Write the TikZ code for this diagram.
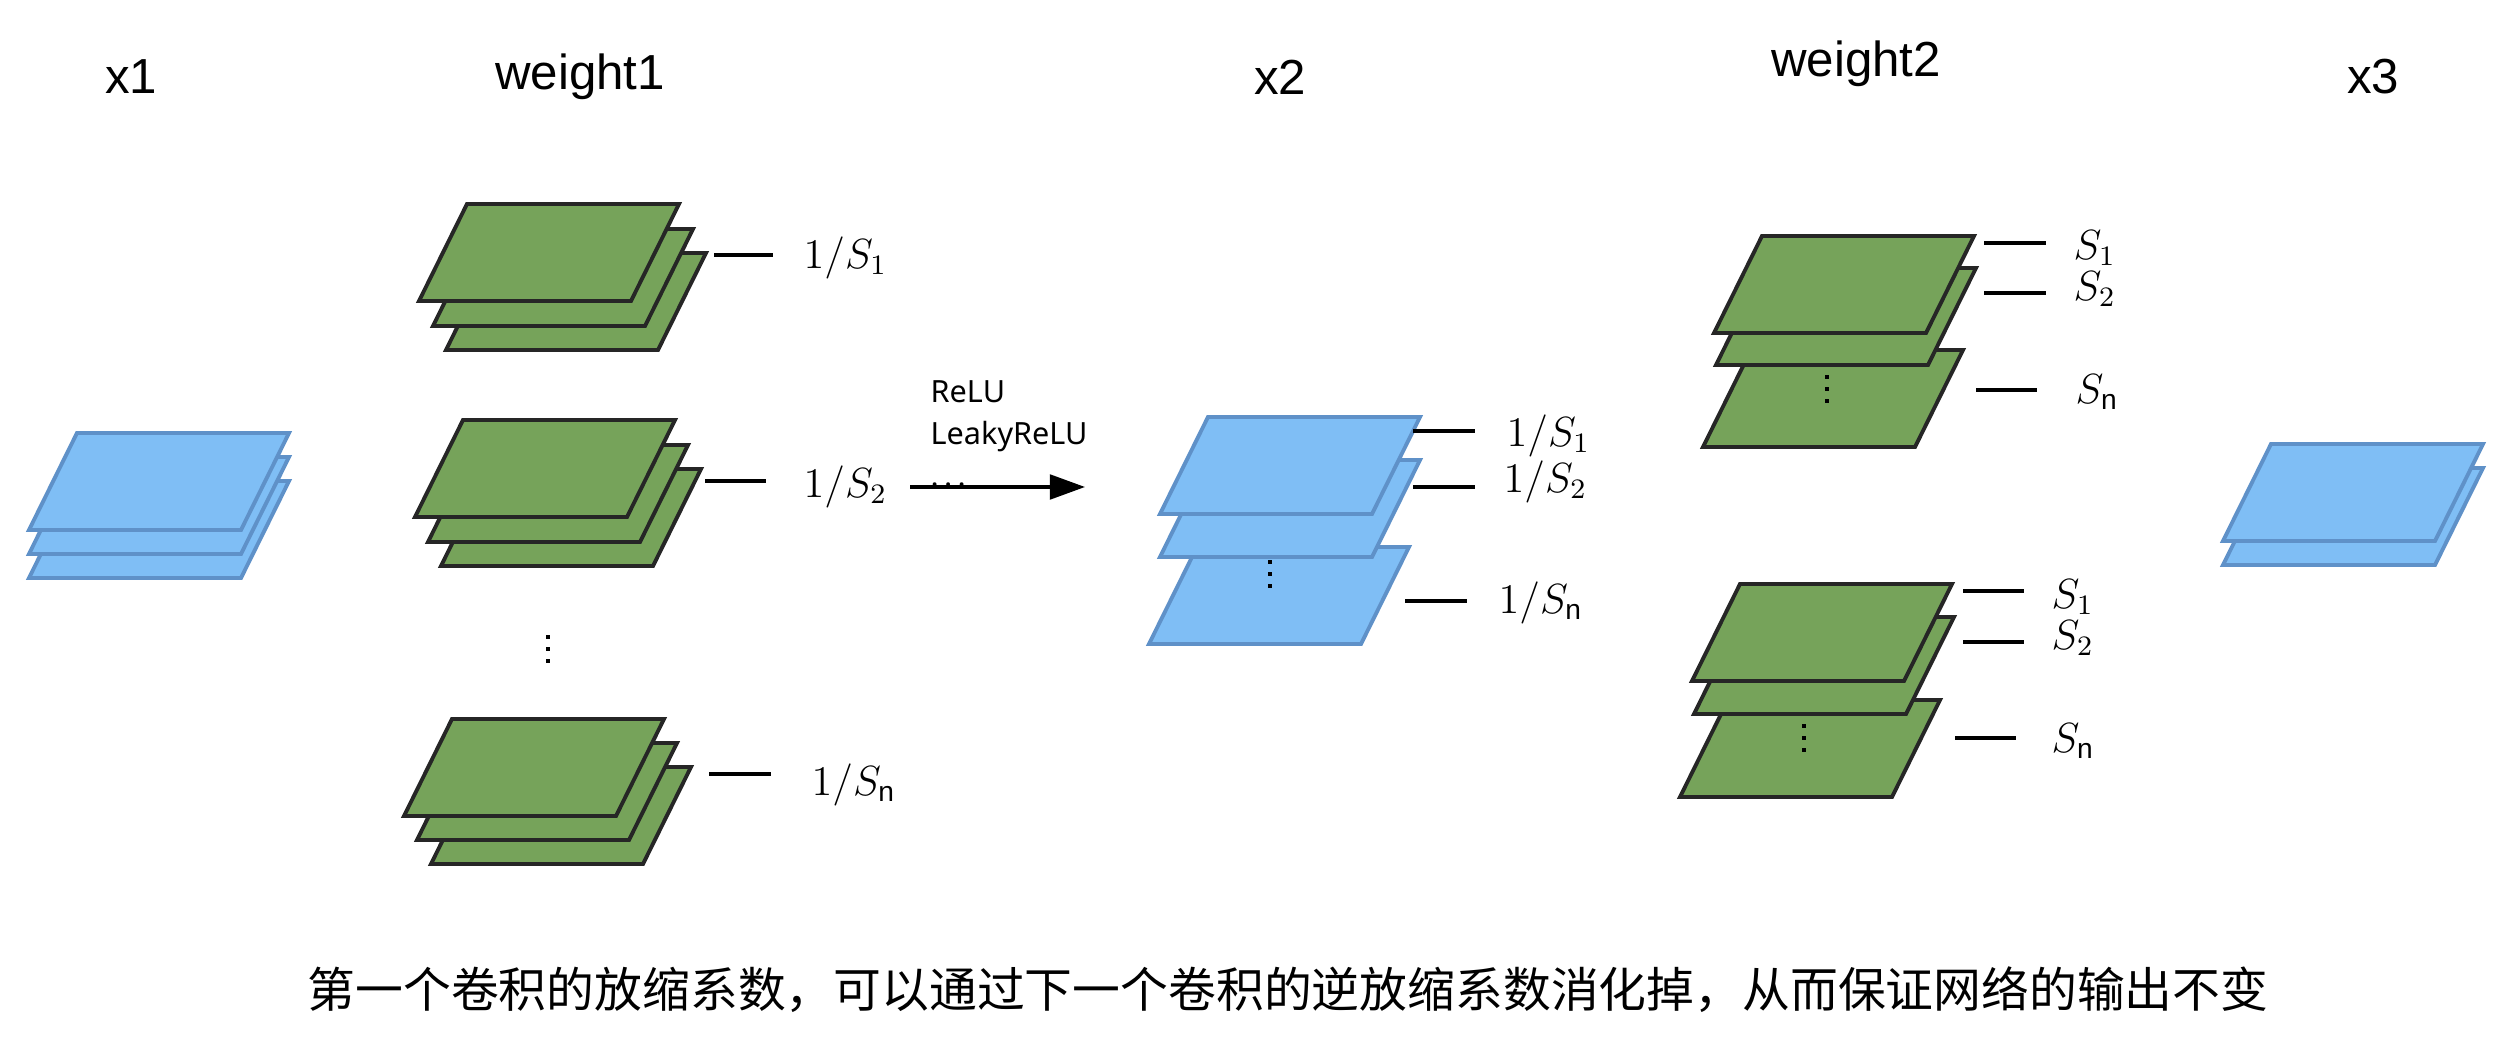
\documentclass[tikz,border=0pt]{standalone}
\usepackage{fontspec}
\usetikzlibrary{arrows.meta}
\setmainfont{Liberation Sans}
\newfontfamily\cjk{Noto Sans CJK SC}
\newfontfamily\notos{Noto Sans}
\definecolor{gfill}{RGB}{118,163,90}
\definecolor{gline}{RGB}{38,38,38}
\definecolor{bfill}{RGB}{127,190,245}
\definecolor{bline}{RGB}{95,145,200}
\tikzset{
  gsheet/.style={fill=gfill,draw=gline,line width=1.1pt,line join=miter},
  bsheet/.style={fill=bfill,draw=bline,line width=1.1pt,line join=miter},
  ttl/.style={font=\fontsize{14}{16}\selectfont,inner sep=0pt},
  lbl/.style={font=\fontsize{12}{14}\selectfont,anchor=west,inner sep=0pt},
  tick/.style={line width=1.1pt},
}
\newcommand{\mysheet}[3]{\draw[#3] (#1,#2) -- ++(212,0) -- ++(48,-97) -- ++(-212,0) -- cycle;}
\newcommand{\myvdots}[2]{\foreach \k in {0,12,24}{\fill (#1-2,#2+\k-2) rectangle ++(4,4);}}
\begin{document}
\begin{tikzpicture}[x=0.01cm,y=-0.01cm]
\useasboundingbox (0,0) rectangle (2496,1040);
% titles
\node[ttl] (t1) at (131,77) {x1};
\node[ttl] (t2) at (580,77) {weight1};
\node[ttl] (t3) at (1280,77) {x2};
\node[ttl] (t4) at (1856,64) {weight2};
\node[ttl] (t5) at (2373,77) {x3};
% x1
\mysheet{29}{578}{bsheet}
\mysheet{29}{554}{bsheet}
\mysheet{29}{530}{bsheet}
% weight1 group1
\mysheet{446}{350}{gsheet}
\mysheet{433}{326}{gsheet}
\mysheet{419}{301}{gsheet}
\coordinate (a1) at (714,255); \coordinate (b1) at (773,255);
\draw[tick] (a1) -- (b1);
\node[lbl] (l1) at (803,258) {$1/S_1$};
% group2
\mysheet{441}{566}{gsheet}
\mysheet{428}{542}{gsheet}
\mysheet{415}{517}{gsheet}
\coordinate (a2) at (705,481); \coordinate (b2) at (766,481);
\draw[tick] (a2) -- (b2);
\node[lbl] (l2) at (803,487) {$1/S_2$};
\myvdots{548}{637}
% group3
\mysheet{431}{864}{gsheet}
\mysheet{417}{840}{gsheet}
\mysheet{404}{816}{gsheet}
\coordinate (a3) at (709,774); \coordinate (b3) at (771,774);
\draw[tick] (a3) -- (b3);
\node[lbl] (l3) at (811,785) {$1/S_{\mathrm{n}}$};
% arrow
\node[font=\notos\fontsize{8.7}{12}\selectfont,anchor=north west,align=left,inner sep=0pt] (act) at (930,380) {ReLU\\LeakyReLU\\.\kern1.5pt.\kern1.5pt.};
\coordinate (ar1) at (910,487); \coordinate (ar2) at (1085,487);
\draw[line width=1pt,-{Triangle[length=10pt,width=7pt]}] (ar1) -- (ar2);
% x2
\mysheet{1149}{644}{bsheet}
\mysheet{1160}{557}{bsheet}
\mysheet{1160}{514}{bsheet}
\myvdots{1270}{562}
\coordinate (c1) at (1413,431); \coordinate (d1) at (1475,431);
\draw[tick] (c1) -- (d1);
\node[lbl] (m1) at (1506,436) {$1/S_1$};
\coordinate (c2) at (1413,487); \coordinate (d2) at (1475,487);
\draw[tick] (c2) -- (d2);
\node[lbl] (m2) at (1503,482) {$1/S_2$};
\coordinate (c3) at (1405,601); \coordinate (d3) at (1467,601);
\draw[tick] (c3) -- (d3);
\node[lbl] (m3) at (1498,603) {$1/S_{\mathrm{n}}$};
% weight2 top
\mysheet{1703}{447}{gsheet}
\mysheet{1716}{365}{gsheet}
\mysheet{1714}{333}{gsheet}
\myvdots{1827}{377}
\coordinate (e1) at (1984,243); \coordinate (f1) at (2046,243);
\draw[tick] (e1) -- (f1);
\node[lbl] (n1) at (2073,248) {$S_1$};
\coordinate (e2) at (1984,293); \coordinate (f2) at (2046,293);
\draw[tick] (e2) -- (f2);
\node[lbl] (n2) at (2073,289) {$S_2$};
\coordinate (e3) at (1976,390); \coordinate (f3) at (2037,390);
\draw[tick] (e3) -- (f3);
\node[lbl] (n3) at (2075,392) {$S_{\mathrm{n}}$};
% weight2 bottom
\mysheet{1680}{797}{gsheet}
\mysheet{1694}{714}{gsheet}
\mysheet{1692}{681}{gsheet}
\myvdots{1804}{726}
\coordinate (g1) at (1963,591); \coordinate (h1) at (2024,591);
\draw[tick] (g1) -- (h1);
\node[lbl] (p1) at (2051,597) {$S_1$};
\coordinate (g2) at (1963,642); \coordinate (h2) at (2024,642);
\draw[tick] (g2) -- (h2);
\node[lbl] (p2) at (2051,638) {$S_2$};
\coordinate (g3) at (1955,738); \coordinate (h3) at (2016,738);
\draw[tick] (g3) -- (h3);
\node[lbl] (p3) at (2051,741) {$S_{\mathrm{n}}$};
% x3
\mysheet{2223}{565}{bsheet}
\mysheet{2223}{541}{bsheet}
% caption
\node[font=\cjk\fontsize{13.6}{16}\selectfont,inner sep=0pt] (cap) at (1288,990) {第一个卷积的放缩系数，可以通过下一个卷积的逆放缩系数消化掉，从而保证网络的输出不变};
\end{tikzpicture}
\end{document}
